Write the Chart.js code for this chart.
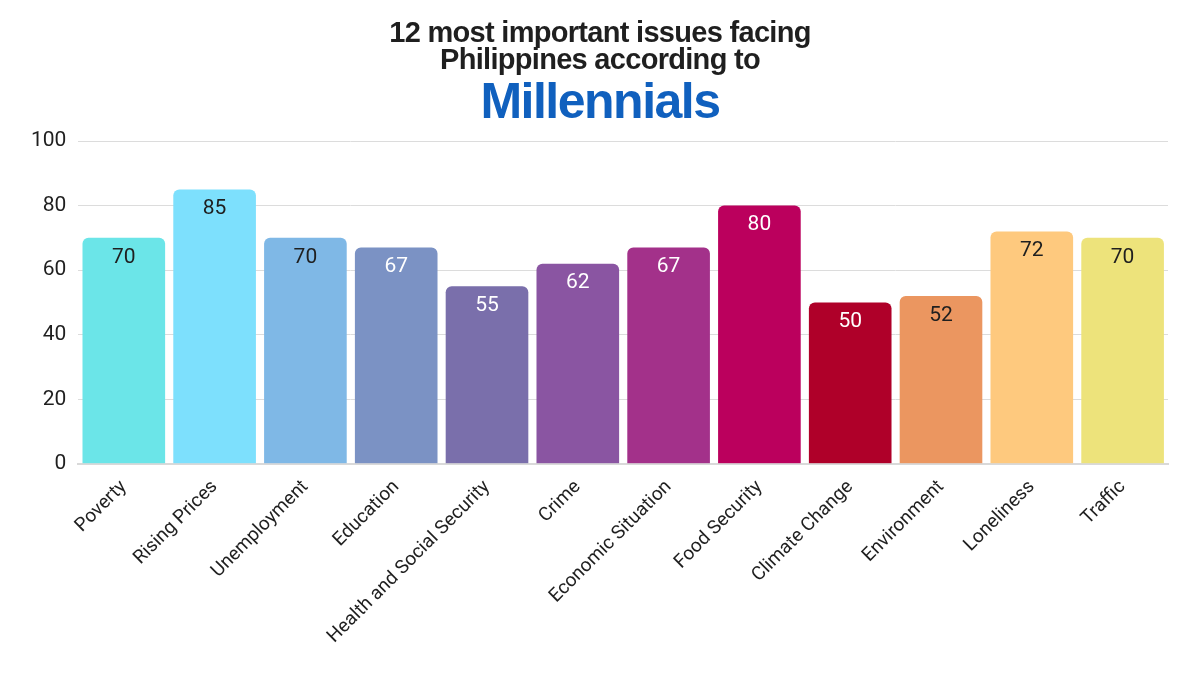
<!DOCTYPE html>
<html>
<head>
<meta charset="utf-8">
<script src="https://cdn.jsdelivr.net/npm/chart.js@4"></script>
<style>
  html, body { margin: 0; padding: 0; background: #fff; }
  #wrap { position: relative; width: 1200px; height: 675px; }
  #title {
    position: absolute; left: 0; top: 19px; width: 1200px; text-align: center;
    font-family: "Liberation Sans", Arial, sans-serif; font-weight: bold; color: #1f1f1f;
  }
  #title .l1 { font-size: 29px; line-height: 27px; letter-spacing: -0.7px; }
  #title .big { font-size: 50px; line-height: 56px; letter-spacing: -1.5px; color: #1060be; }
  canvas { position: absolute; left: 0; top: 0; }
</style>
</head>
<body>
<div id="wrap">
  <canvas id="chart" width="1200" height="675"></canvas>
  <div id="title">
    <div class="l1">12 most important issues facing</div>
    <div class="l1">Philippines according to</div>
    <div class="big">Millennials</div>
  </div>
</div>
<script>
const issues = ['Poverty', 'Rising Prices', 'Unemployment', 'Education', 'Health and Social Security',
  'Crime', 'Economic Situation', 'Food Security', 'Climate Change', 'Environment', 'Loneliness', 'Traffic'];
const scores = [70, 85, 70, 67, 55, 62, 67, 80, 50, 52, 72, 70];
const barColors = ['#6be5e8', '#7de0fd', '#7fb8e6', '#7b92c4', '#7a6fab', '#8a55a2',
  '#a3318a', '#bb005d', '#af0029', '#eb9660', '#fec97e', '#ede37b'];
const labelColors = ['#1f1f1f', '#1f1f1f', '#1f1f1f', '#ffffff', '#ffffff', '#ffffff',
  '#ffffff', '#ffffff', '#ffffff', '#1f1f1f', '#1f1f1f', '#1f1f1f'];

const valueLabels = {
  id: 'valueLabels',
  afterDatasetsDraw(chart) {
    const ctx = chart.ctx;
    const meta = chart.getDatasetMeta(0);
    ctx.save();
    ctx.font = '400 21px Roboto, sans-serif';
    ctx.textAlign = 'center';
    ctx.textBaseline = 'top';
    meta.data.forEach((bar, i) => {
      ctx.fillStyle = labelColors[i];
      ctx.fillText(String(scores[i]), bar.x, bar.y + 9);
    });
    ctx.restore();
  }
};

new Chart(document.getElementById('chart'), {
  type: 'bar',
  data: {
    labels: issues,
    datasets: [{
      data: scores,
      backgroundColor: barColors,
      borderRadius: 6,
      barPercentage: 0.91,
      categoryPercentage: 1
    }]
  },
  options: {
    responsive: false,
    animation: false,
    layout: { padding: { top: 141, left: 19, right: 32, bottom: 23 } },
    plugins: {
      legend: { display: false },
      tooltip: { enabled: false }
    },
    scales: {
      x: {
        grid: { display: false },
        border: { color: '#d9d9d9', width: 2 },
        ticks: {
          color: '#1f1f1f',
          font: { family: 'Roboto, sans-serif', size: 19, weight: '400' },
          minRotation: 45,
          maxRotation: 45,
          padding: 4
        }
      },
      y: {
        min: 0,
        max: 100,
        grid: { color: '#dcdcdc', drawTicks: false },
        border: { display: false },
        ticks: {
          stepSize: 20,
          color: '#1f1f1f',
          font: { family: 'Roboto, sans-serif', size: 21, weight: '400' },
          padding: 12
        }
      }
    }
  },
  plugins: [valueLabels]
});
</script>
</body>
</html>
